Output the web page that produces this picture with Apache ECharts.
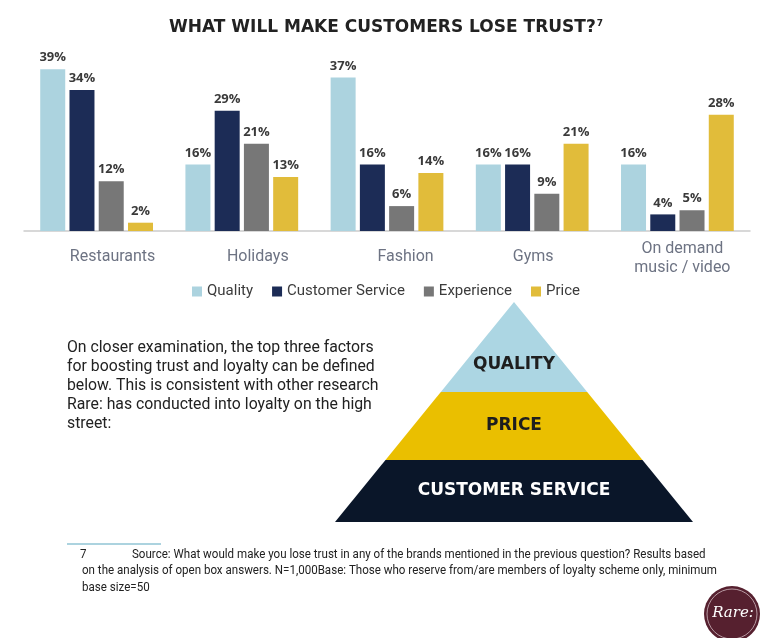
<!DOCTYPE html>
<html>
<head>
<meta charset="utf-8">
<script src="https://cdn.jsdelivr.net/npm/echarts@6/dist/echarts.min.js"></script>
<style>
  html, body { margin: 0; padding: 0; background: #fff; }
  #chart { width: 772px; height: 638px; }
</style>
</head>
<body>
<div id="chart"></div>
<script>
// categories and series values
const categories = ['Restaurants', 'Holidays', 'Fashion', 'Gyms', 'On demand\nmusic / video'];
const seriesNames = ['Quality', 'Customer Service', 'Experience', 'Price'];
const qualityValues = [39, 16, 37, 16, 16];
const serviceValues = [34, 29, 16, 16, 4];
const experienceValues = [12, 21, 6, 9, 5];
const priceValues = [2, 13, 14, 21, 28];

// pyramid layers, bottom to top, with their boundaries (share of height)
const pyramidLabels = ['CUSTOMER SERVICE', 'PRICE', 'QUALITY'];
const pyramidBounds = [0, 0.282, 0.591, 1];

const colors = {
    quality: '#acd3df',
    service: '#1c2c56',
    experience: '#777777',
    price: '#e1bc3a'
};
const pyramidColors = ['#0a1629', '#eabf00', '#acd6e3'];
const pyramidTextColors = ['#ffffff', '#1e1e1e', '#1e1e1e'];
const headFont = 'DejaVu Sans';

// per category label shift (labels in the source are hand placed)
const labelRich = {
    c0: { padding: [16, 0, 0, 32] },
    c1: { padding: [16, 0, 0, 32] },
    c2: { padding: [16, 0, 0, 37] },
    c3: { padding: [16, 0, 0, 2] },
    c4: { padding: [0, 0, 0, 10] }
};
Object.keys(labelRich).forEach(function (k) {
    labelRich[k].fontFamily = 'Roboto';
    labelRich[k].fontSize = 16;
    labelRich[k].lineHeight = 19;
    labelRich[k].color = '#6d7383';
});

const chart = echarts.init(document.getElementById('chart'));

const barLabel = {
    show: true,
    position: 'top',
    distance: 5,
    formatter: '{c}%',
    fontFamily: 'Open Sans',
    fontWeight: 'bold',
    fontSize: 13,
    color: '#3a3a3a'
};

function barSeries(name, data, color) {
    return {
        name: name,
        type: 'bar',
        xAxisIndex: 0,
        yAxisIndex: 0,
        data: data,
        barWidth: 25,
        barGap: '17%',
        itemStyle: { color: color },
        label: barLabel
    };
}

const footStyle = {
    fontFamily: 'Roboto',
    fontSize: 13,
    lineHeight: 16.5,
    fill: '#222222',
    verticalAlign: 'top'
};

const option = {
    animation: false,
    title: {
        left: 'center',
        top: 14,
        text: '{t|WHAT WILL MAKE CUSTOMERS LOSE TRUST?}{s|7}',
        textStyle: {
            rich: {
                t: { fontFamily: headFont, fontWeight: 'bold', fontSize: 17, color: '#222222' },
                s: { fontFamily: headFont, fontSize: 9, color: '#222222', verticalAlign: 'top', padding: [0, 0, 8, 1] }
            }
        }
    },
    legend: {
        data: seriesNames,
        left: 'center',
        top: 279,
        itemWidth: 10,
        itemHeight: 10,
        itemGap: 19,
        icon: 'rect',
        textStyle: { fontFamily: 'Roboto', fontSize: 15, color: '#3c3c3c' }
    },
    grid: [
        { left: 24, right: 22, top: 65, height: 166 },
        { left: 335, width: 358, top: 302, height: 220 }
    ],
    xAxis: [
        {
            type: 'category',
            gridIndex: 0,
            data: categories,
            axisTick: { show: false },
            axisLine: { lineStyle: { color: '#cccccc', width: 1.5 } },
            axisLabel: {
                interval: 0,
                margin: 8,
                formatter: function (v, i) { return '{c' + i + '|' + v + '}'; },
                rich: labelRich
            }
        },
        { type: 'value', gridIndex: 1, min: -1, max: 1, show: false }
    ],
    yAxis: [
        { type: 'value', gridIndex: 0, min: 0, max: 40, show: false },
        { type: 'value', gridIndex: 1, min: 0, max: 1, show: false }
    ],
    series: [
        barSeries(seriesNames[0], qualityValues, colors.quality),
        barSeries(seriesNames[1], serviceValues, colors.service),
        barSeries(seriesNames[2], experienceValues, colors.experience),
        barSeries(seriesNames[3], priceValues, colors.price),
        {
            type: 'custom',
            xAxisIndex: 1,
            yAxisIndex: 1,
            silent: true,
            data: pyramidLabels.map(function (name, i) {
                return [pyramidBounds[i], pyramidBounds[i + 1]];
            }),
            renderItem: function (params, api) {
                const y0 = api.value(0);
                const y1 = api.value(1);
                const i = params.dataIndex;
                const points = [
                    api.coord([-(1 - y0), y0]),
                    api.coord([1 - y0, y0]),
                    api.coord([1 - y1, y1]),
                    api.coord([-(1 - y1), y1])
                ];
                const t = y1 === 1 ? 0.3 : 0.5;
                const mid = api.coord([0, y0 + (y1 - y0) * t]);
                return {
                    type: 'group',
                    children: [
                        { type: 'polygon', shape: { points: points }, style: { fill: pyramidColors[i] } },
                        {
                            type: 'text',
                            style: {
                                text: pyramidLabels[i],
                                x: mid[0],
                                y: mid[1],
                                align: 'center',
                                verticalAlign: 'middle',
                                fontFamily: headFont,
                                fontWeight: 'bold',
                                fontSize: 17,
                                fill: pyramidTextColors[i]
                            }
                        }
                    ]
                };
            }
        }
    ],
    graphic: [
        {
            type: 'text',
            left: 67,
            top: 339,
            style: {
                text: 'On closer examination, the top three factors\nfor boosting trust and loyalty can be defined\nbelow. This is consistent with other research\nRare: has conducted into loyalty on the high\nstreet:',
                fontFamily: 'Roboto',
                fontSize: 15.8,
                lineHeight: 19,
                fill: '#222222'
            }
        },
        {
            type: 'rect',
            left: 67,
            top: 543,
            shape: { width: 94, height: 2 },
            style: { fill: '#acd3df' }
        },
        {
            type: 'text',
            x: 80,
            y: 546,
            scaleX: 0.89,
            style: Object.assign({ text: '7' }, footStyle)
        },
        {
            type: 'text',
            x: 132,
            y: 546,
            scaleX: 0.89,
            style: Object.assign({ text: 'Source: What would make you lose trust in any of the brands mentioned in the previous question? Results based' }, footStyle)
        },
        {
            type: 'text',
            x: 82,
            y: 562.5,
            scaleX: 0.89,
            style: Object.assign({ text: 'on the analysis of open box answers. N=1,000Base: Those who reserve from/are members of loyalty scheme only, minimum\nbase size=50' }, footStyle)
        },
        {
            type: 'circle',
            shape: { cx: 732, cy: 614, r: 28 },
            style: { fill: '#56202f' }
        },
        {
            type: 'circle',
            shape: { cx: 732, cy: 614, r: 25 },
            style: { fill: 'none', stroke: '#b89aa3', lineWidth: 1 }
        },
        {
            type: 'text',
            x: 733,
            y: 613,
            style: {
                text: 'Rare:',
                align: 'center',
                verticalAlign: 'middle',
                fontFamily: 'DejaVu Serif',
                fontStyle: 'italic',
                fontSize: 15,
                fill: '#ffffff'
            }
        }
    ]
};

chart.setOption(option);
</script>
</body>
</html>
